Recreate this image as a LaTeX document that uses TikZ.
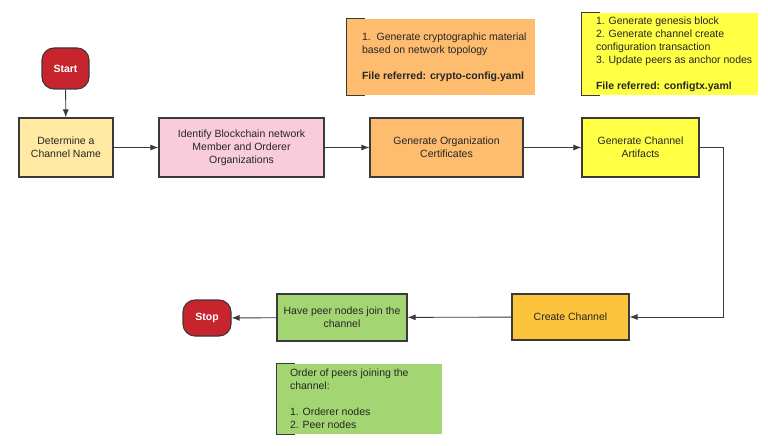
\documentclass[tikz,border=0pt]{standalone}
\usepackage{fontspec}
\setmainfont{Liberation Sans}
\usepackage{tikz}
\usetikzlibrary{arrows.meta,positioning}

\definecolor{linegray}{HTML}{3A3A3A}
\definecolor{termred}{HTML}{C8242E}
\definecolor{namefill}{HTML}{FFE9A3}
\definecolor{memberfill}{HTML}{F9CCDB}
\definecolor{certfill}{HTML}{FDBC6E}
\definecolor{artifill}{HTML}{FFFF44}
\definecolor{createfill}{HTML}{FCC43C}
\definecolor{joinfill}{HTML}{A3D672}

\begin{document}
\begin{tikzpicture}[x=1pt,y=-1pt,
    box/.style={draw=linegray, line width=1.1pt, align=center, text=black!85,
        inner sep=2pt, font=\fontsize{10.5}{13}\selectfont},
    term/.style={box, fill=termred, rounded corners=12pt, text=white,
        font=\fontsize{10.5}{13}\selectfont\bfseries},
    notebox/.style={inner sep=0pt},
    notetext/.style={anchor=west, align=left, inner sep=0pt, text=black!85,
        font=\fontsize{10.5}{13}\selectfont},
    bracket/.style={draw=linegray, line width=1.1pt},
    flow/.style={draw=linegray, line width=0.9pt, -{Latex[length=8pt,width=6pt]}}]

    \useasboundingbox (0,0) rectangle (768,446);

    % Process boxes
    \node[term, minimum width=47, minimum height=41] (start) at (65.5,68.5) {Start};
    \node[box, fill=namefill, minimum width=94, minimum height=59] (chname) at (66,147.5)
        {Determine a\\Channel Name};
    \node[box, fill=memberfill, minimum width=165, minimum height=59] (members) at (241.5,147.5)
        {Identify Blockchain network\\Member and Orderer\\Organizations};
    \node[box, fill=certfill, minimum width=153, minimum height=59] (orgcert) at (446.5,147.5)
        {Generate Organization\\Certificates};
    \node[box, fill=artifill, minimum width=117, minimum height=59] (artifacts) at (640.5,147.5)
        {Generate Channel\\Artifacts};
    \node[box, fill=createfill, minimum width=117, minimum height=46] (createch) at (570.5,317)
        {Create Channel};
    \node[box, fill=joinfill, minimum width=130, minimum height=47] (joinch) at (342,317.5)
        {Have peer nodes join the\\channel};
    \node[term, minimum width=48, minimum height=36] (stop) at (207,318) {Stop};

    % Notes
    \node[notebox, fill=certfill, minimum width=188, minimum height=76] (cryptonote) at (441,57) {};
    \node[notetext] (cryptotext) at ([xshift=15]cryptonote.west)
        {1.\ \ Generate cryptographic material\\based on network topology\\[13pt]
        \textbf{File referred: crypto-config.yaml}};
    \draw[bracket] ([xshift=18]cryptonote.north west) -- (cryptonote.north west)
        -- (cryptonote.south west) -- ++(18,0);

    \node[notebox, fill=artifill, minimum width=176, minimum height=82] (configtxnote) at (670,54) {};
    \node[notetext] (configtxtext) at ([xshift=14]configtxnote.west)
        {1. Generate genesis block\\2. Generate channel create\\configuration transaction\\
        3. Update peers as anchor nodes\\[13pt]\textbf{File referred: configtx.yaml}};
    \draw[bracket] ([xshift=18]configtxnote.north west) -- (configtxnote.north west)
        -- (configtxnote.south west) -- ++(18,0);

    \node[notebox, fill=joinfill, minimum width=165, minimum height=70] (ordernote) at (359.5,399) {};
    \node[notetext] (ordertext) at ([xshift=13]ordernote.west)
        {Order of peers joining the\\channel:\\[13pt]1. Orderer nodes\\2. Peer nodes};
    \draw[bracket] ([xshift=18]ordernote.north west) -- (ordernote.north west)
        -- (ordernote.south west) -- ++(18,0);

    % Connectors
    \draw[flow] (start) -- (chname);
    \draw[flow] (chname) -- (members);
    \draw[flow] (members) -- (orgcert);
    \draw[flow] (orgcert) -- (artifacts);
    \draw[flow] (artifacts.east) -- ++(24,0) |- (createch.east);
    \draw[flow] (createch) -- (joinch);
    \draw[flow] (joinch) -- (stop);
\end{tikzpicture}
\end{document}
